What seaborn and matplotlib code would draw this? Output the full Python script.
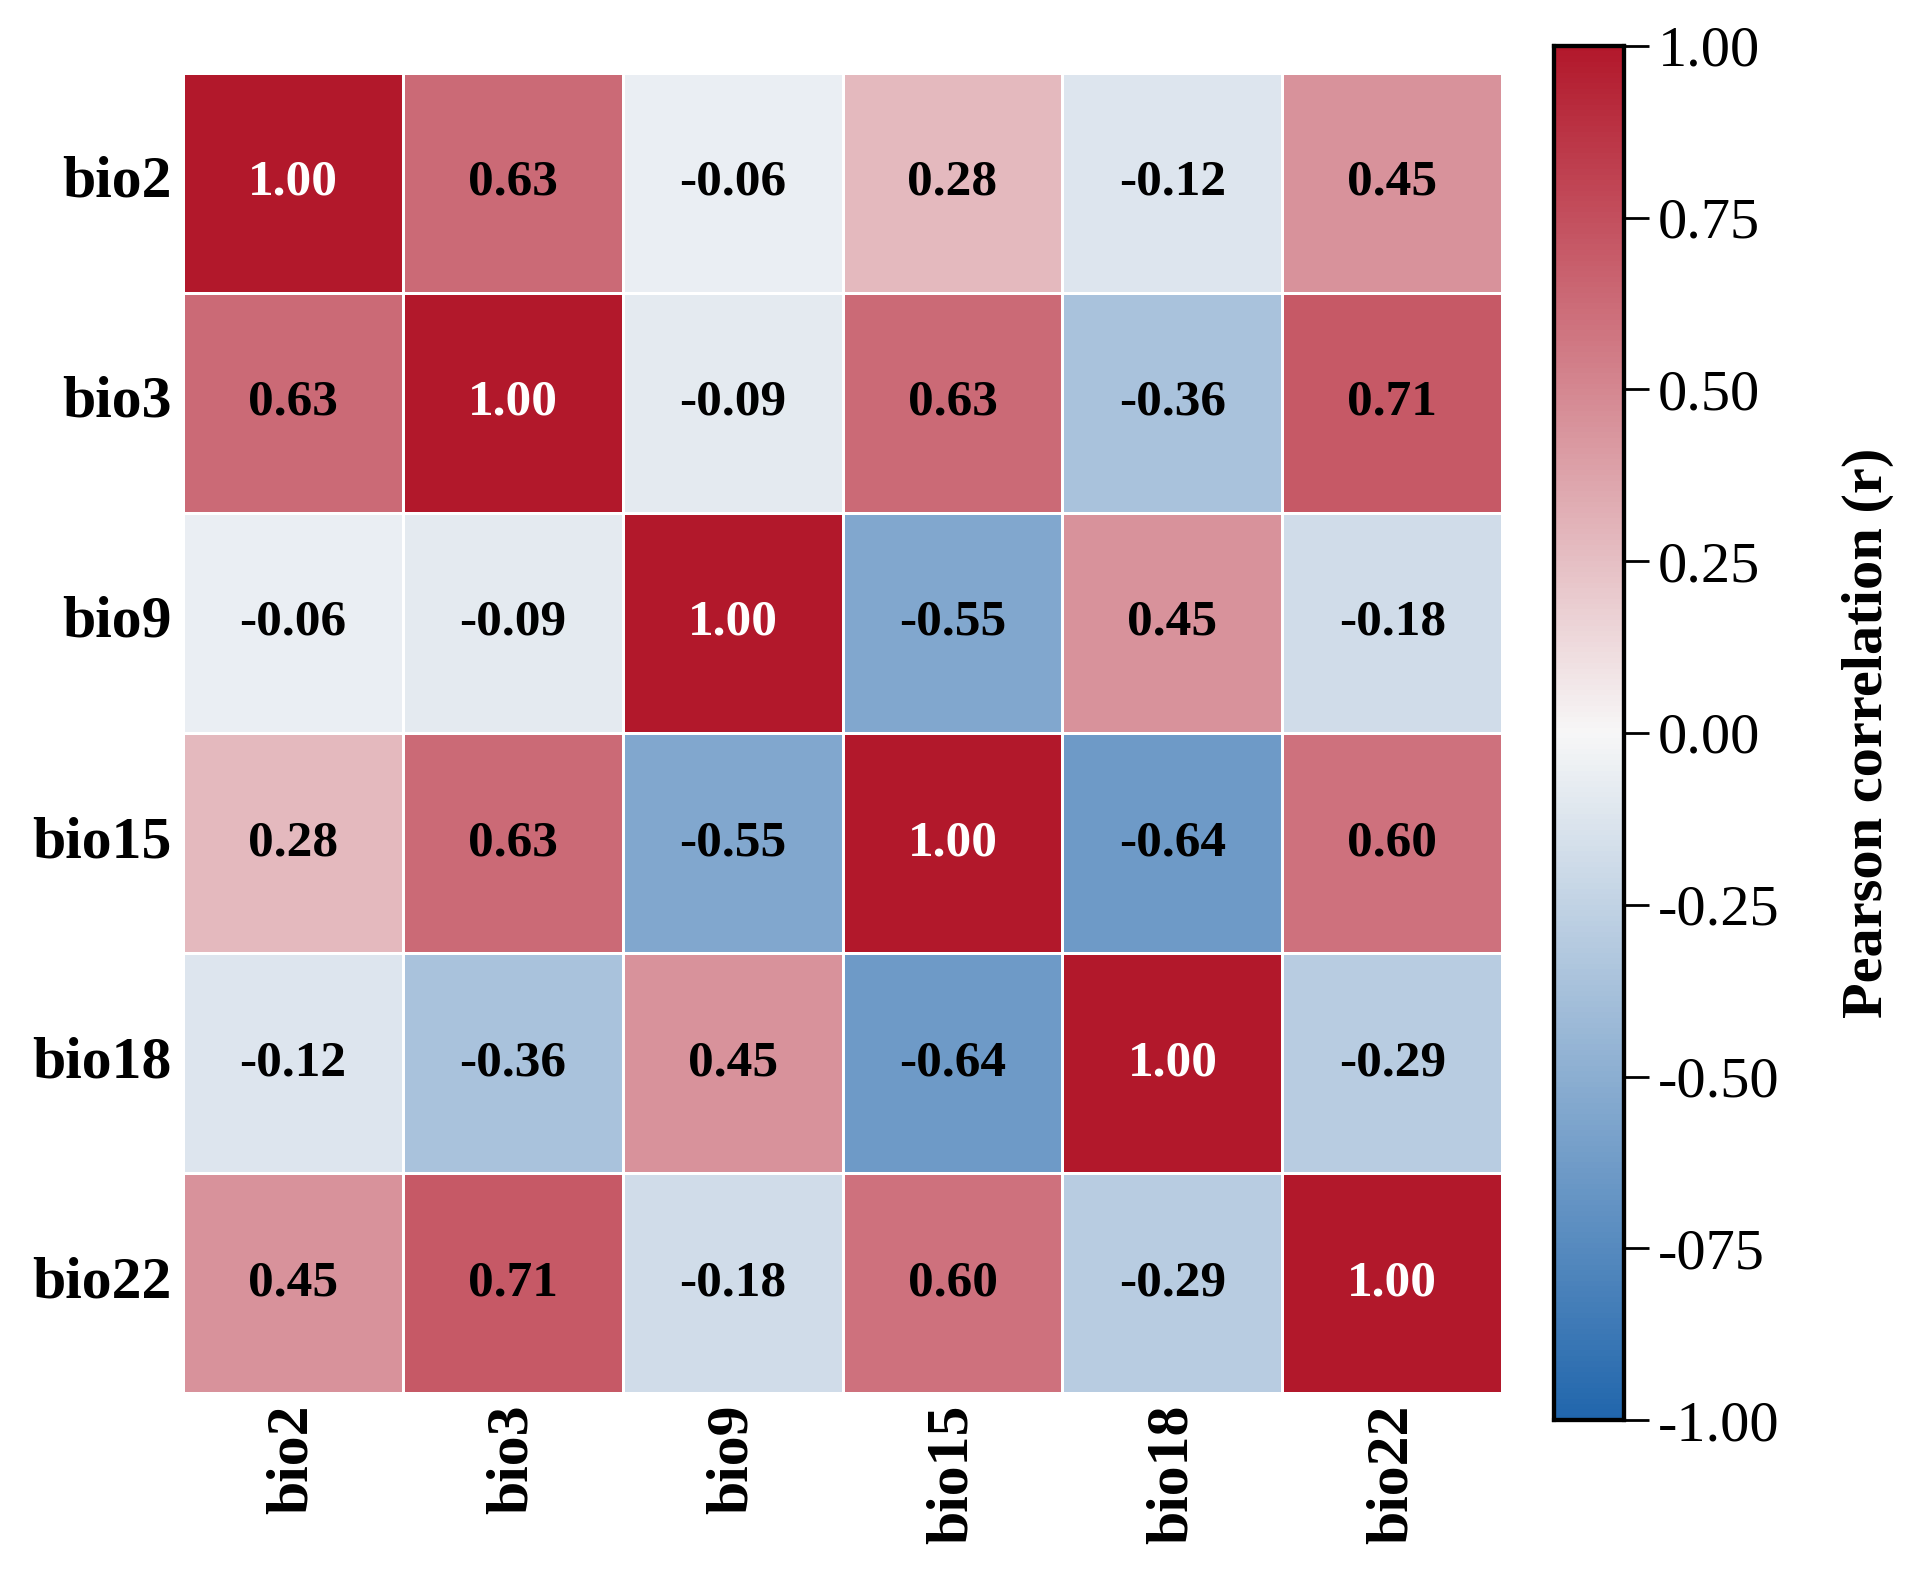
import numpy as np
import pandas as pd
import matplotlib
matplotlib.use("Agg")
import matplotlib.pyplot as plt
from matplotlib.colors import LinearSegmentedColormap
import seaborn as sns

labels = ["bio2", "bio3", "bio9", "bio15", "bio18", "bio22"]
r_bio2 = [1.00, 0.63, -0.06, 0.28, -0.12, 0.45]
r_bio3 = [0.63, 1.00, -0.09, 0.63, -0.36, 0.71]
r_bio9 = [-0.06, -0.09, 1.00, -0.55, 0.45, -0.18]
r_bio15 = [0.28, 0.63, -0.55, 1.00, -0.64, 0.60]
r_bio18 = [-0.12, -0.36, 0.45, -0.64, 1.00, -0.29]
r_bio22 = [0.45, 0.71, -0.18, 0.60, -0.29, 1.00]
cbar_ticks = [1.00, 0.75, 0.50, 0.25, 0.00, -0.25, -0.50, -0.75, -1.00]
cbar_ticklabels = ["1.00", "0.75", "0.50", "0.25", "0.00", "-0.25", "-0.50", "-075", "-1.00"]

corr = pd.DataFrame([r_bio2, r_bio3, r_bio9, r_bio15, r_bio18, r_bio22],
                    index=labels, columns=labels)

sns.set_theme(style="white")
plt.rcParams["font.family"] = ["Liberation Serif", "DejaVu Serif"]
plt.rcParams["text.color"] = "black"
plt.rcParams["xtick.color"] = "black"
plt.rcParams["ytick.color"] = "black"
plt.rcParams["axes.labelcolor"] = "black"

cmap = LinearSegmentedColormap.from_list("rb", ["#2166ac", "#f7f7f7", "#b2182b"])

fig = plt.figure(figsize=(19.12, 15.78), dpi=100)
ax = fig.add_axes([0.0957, 0.117, 0.690, 0.837])
cax = fig.add_axes([0.813, 0.100, 0.0366, 0.871])

sns.heatmap(corr, ax=ax, cbar_ax=cax, cmap=cmap, vmin=-1, vmax=1,
            linewidths=2, linecolor="white", annot=False, square=False)

# annotations: white on the diagonal, black elsewhere
for i, row in enumerate(corr.index):
    for j, col in enumerate(corr.columns):
        v = corr.loc[row, col]
        ax.text(j + 0.5, i + 0.5, f"{v:.2f}", ha="center", va="center",
                fontsize=37, fontweight="bold",
                color="white" if abs(v) > 0.9 else "black")

ax.set_xticklabels(labels, rotation=90, fontsize=43, fontweight="bold")
ax.set_yticklabels(labels, rotation=0, fontsize=43, fontweight="bold")
ax.tick_params(axis="both", length=0, pad=8)
ax.set_xlabel(""); ax.set_ylabel("")

cax.set_yticks(cbar_ticks)
cax.set_yticklabels(cbar_ticklabels, fontsize=42)
cax.tick_params(axis="y", length=18, width=2, color="black", pad=6, right=True)
for s in cax.spines.values():
    s.set_visible(True); s.set_color("black"); s.set_linewidth(3)
cax.set_ylabel("Pearson correlation (r)", fontsize=42, fontweight="bold", labelpad=45)

fig.savefig("out.png", dpi=100, facecolor="white")
